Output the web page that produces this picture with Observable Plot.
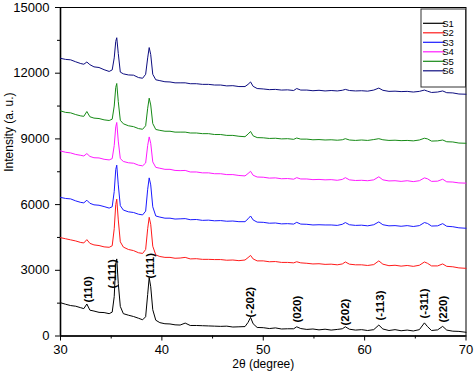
<!DOCTYPE html>
<html><head><meta charset="utf-8">
<script src="https://cdn.jsdelivr.net/npm/d3@7"></script>
<script src="https://cdn.jsdelivr.net/npm/@observablehq/plot@0.6"></script>
<style>
html,body{margin:0;padding:0;background:#fff;}
#chart{position:relative;width:474px;height:374px;}
</style></head><body><div id="chart"></div>
<script>
const angles = [30,30.5,31,31.5,32,32.3,32.6,32.9,33.3,33.8,34.3,34.8,35.1,35.3,35.45,35.55,35.7,35.9,36.2,36.7,37.2,37.7,38.1,38.4,38.6,38.75,38.9,39.1,39.4,39.8,40.3,40.8,41.3,41.8,42.3,42.8,43.4,44,44.6,45.2,45.8,46.4,47,47.6,48.2,48.5,48.75,49,49.4,50,50.6,51.2,51.8,52.4,53,53.3,53.7,54.3,54.9,55.5,56.1,56.7,57.3,57.8,58.1,58.5,59.1,59.7,60.3,60.9,61.4,61.8,62.4,63,63.6,64.2,64.8,65.4,65.9,66.2,66.6,67.2,67.7,68.1,68.7,69.3,70];

const s1 = [1520,1450,1390,1360,1290,1250,1460,1180,1140,1080,1070,1020,1090,1800,3300,3520,2400,1350,1020,950,890,810,740,880,1900,2670,2250,1200,720,610,560,550,510,500,590,480,480,470,460,450,440,450,410,420,430,620,850,560,390,380,340,370,320,330,330,420,340,300,320,280,310,270,300,330,420,310,270,290,250,290,500,320,250,290,240,270,230,290,600,430,250,280,440,270,220,210,170];
const s2 = [4490,4440,4390,4340,4270,4250,4400,4230,4160,4130,4070,4050,4120,4900,6000,6250,5300,4300,4060,3950,3900,3800,3770,3950,4900,5420,5100,4100,3700,3630,3590,3590,3550,3560,3590,3520,3530,3500,3500,3490,3490,3460,3470,3440,3470,3580,3680,3520,3430,3430,3390,3400,3360,3360,3340,3390,3340,3320,3290,3300,3270,3280,3250,3290,3380,3280,3250,3250,3220,3260,3430,3280,3210,3230,3190,3220,3180,3230,3380,3320,3200,3200,3290,3180,3160,3110,3090];
const s3 = [6330,6280,6260,6170,6100,6080,6200,6060,5990,5970,5910,5840,5900,6600,7600,7800,6900,5950,5750,5670,5640,5560,5530,5700,6700,7220,6900,5900,5480,5430,5380,5380,5340,5350,5360,5310,5320,5280,5290,5260,5270,5240,5250,5220,5220,5350,5480,5300,5200,5190,5150,5160,5120,5130,5110,5190,5110,5100,5070,5080,5070,5070,5050,5100,5180,5080,5050,5060,5030,5080,5210,5080,5030,5040,5010,5040,5000,5040,5180,5140,5020,5030,5130,5010,4990,4940,4920];
const s4 = [8450,8390,8360,8290,8250,8220,8330,8200,8140,8130,8070,8040,8100,8700,9550,9750,8900,8100,7970,7910,7890,7800,7770,7900,8700,9090,8800,7950,7700,7660,7610,7610,7560,7550,7560,7490,7490,7450,7450,7410,7410,7370,7370,7330,7310,7420,7520,7340,7260,7250,7210,7220,7180,7190,7160,7230,7170,7170,7140,7150,7130,7140,7110,7150,7230,7130,7100,7110,7090,7130,7270,7130,7080,7090,7060,7090,7050,7090,7220,7180,7060,7070,7160,7040,7030,6990,6980];
const s5 = [10280,10210,10190,10110,10050,10030,10250,10010,9950,9930,9870,9840,9900,10500,11350,11530,10700,9850,9690,9600,9560,9470,9440,9600,10400,10860,10550,9700,9430,9390,9350,9350,9310,9310,9310,9270,9270,9240,9240,9200,9200,9160,9160,9120,9100,9220,9340,9140,9060,9050,9020,9030,9000,9010,8980,9040,8990,8990,8960,8970,8950,8960,8940,8960,9010,8950,8930,8950,8930,8970,9010,8960,8930,8940,8920,8930,8910,8950,9030,9000,8900,8910,8950,8870,8860,8810,8800];
const s6 = [12680,12630,12610,12520,12440,12410,12510,12390,12290,12260,12160,12080,12150,12700,13450,13620,12900,12050,11970,11920,11910,11800,11770,11950,12700,13170,12850,11950,11700,11660,11610,11600,11560,11560,11560,11520,11520,11490,11490,11460,11460,11420,11430,11390,11390,11490,11600,11400,11300,11280,11250,11260,11230,11240,11210,11300,11230,11230,11200,11220,11190,11210,11190,11220,11260,11210,11190,11200,11180,11230,11320,11220,11170,11180,11160,11170,11140,11170,11230,11180,11120,11140,11190,11110,11100,11050,11040];

const seriesNames = ["S1","S2","S3","S4","S5","S6"];
const seriesColors = ["#000000","#ff1a1a","#1a1aff","#ff1aff","#168a16","#0d0d80"];
const seriesValues = [s1,s2,s3,s4,s5,s6];

const yTicks = [0,3000,6000,9000,12000,15000];
const yMinor = [1500,4500,7500,10500,13500];
const xTicks = [30,40,50,60,70];
const xMinor = [35,45,55,65];

const peakLabels = ["(110)","(-111)","(111)","(-202)","(020)","(202)","(-113)","(-311)","(220)"];
const peakAngles = [32.7,35.1,38.9,48.7,53.35,58.1,61.55,65.9,67.75];
const peakLabelBase = [1530,2165,2620,845,615,480,705,800,615];

const rows = [];
seriesNames.forEach((name, i) => angles.forEach((a, j) => rows.push({series: name, angle: a, intensity: seriesValues[i][j]})));
const labelRows = peakLabels.map((t, i) => ({text: t, angle: peakAngles[i], base: peakLabelBase[i]}));

const font = "'Liberation Sans', Arial, sans-serif";
const chart = Plot.plot({
  width: 474, height: 374,
  marginLeft: 60, marginRight: 8.5, marginTop: 7, marginBottom: 38.5,
  style: {fontFamily: font, background: "#fff", color: "#000", overflow: "visible"},
  x: {domain: [30, 70]},
  y: {domain: [0, 15000]},
  color: {domain: seriesNames, range: seriesColors},
  marks: [
    Plot.frame({stroke: "#000", strokeWidth: 1}),
    Plot.axisY(yTicks, {tickSize: 5, tickPadding: 6, fontSize: 13, tickFormat: "d", label: null, stroke: "#000", color: "#000"}),
    Plot.axisY(yMinor, {tickSize: 3, tickFormat: () => "", label: null, stroke: "#000"}),
    Plot.axisX(xTicks, {tickSize: 5, tickPadding: 4, fontSize: 13, tickFormat: "d", label: null, stroke: "#000", color: "#000"}),
    Plot.axisX(xMinor, {tickSize: 3, tickFormat: () => "", label: null, stroke: "#000"}),
    Plot.ruleX([30], {stroke: "#000", strokeWidth: 1.6}),
    Plot.ruleY([0], {stroke: "#000", strokeWidth: 1.6}),
    Plot.lineY(rows, {x: "angle", y: "intensity", z: "series", stroke: "series", strokeWidth: 1}),
    Plot.text(labelRows, {x: "angle", y: "base", text: "text", rotate: -90, textAnchor: "start", fontSize: 11.5, fontWeight: "bold", fill: "#000"}),
    Plot.text(["2θ (degree)"], {frameAnchor: "bottom", dy: 31.5, fontSize: 12, fill: "#000"}),
    Plot.text(["Intensity (a. u.)"], {frameAnchor: "left", dx: -51, rotate: -90, fontSize: 12, fill: "#000"})
  ]
});
document.getElementById("chart").appendChild(chart);

// legend
const svg = d3.select(chart);
const lg = svg.append("g").attr("font-family", font).attr("font-size", 9.5);
lg.append("rect").attr("x", 421).attr("y", 9).attr("width", 44.5).attr("height", 78)
  .attr("fill", "#fff").attr("stroke", "#333").attr("stroke-width", 1);
seriesNames.forEach((name, i) => {
  const y = 23.3 + i * 9.5;
  lg.append("line").attr("x1", 423).attr("x2", 445).attr("y1", y).attr("y2", y)
    .attr("stroke", seriesColors[i]).attr("stroke-width", 1.2);
  lg.append("text").attr("x", 448).attr("y", y).attr("dy", "0.35em").attr("fill", "#000").text(name);
});
</script></body></html>
